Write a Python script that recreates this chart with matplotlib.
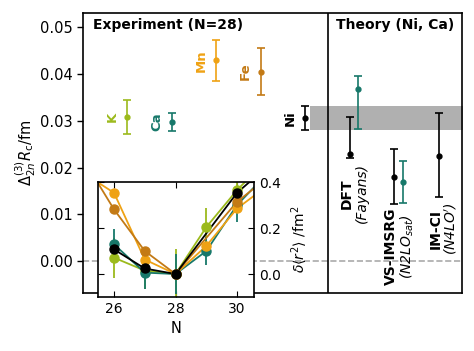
import matplotlib
matplotlib.use("Agg")
import matplotlib.pyplot as plt
import numpy as np

# experiment, N=28 shell gap kink
exp_names = ["K", "Ca", "Mn", "Fe", "Ni"]
exp_vals = [0.0308, 0.0297, 0.0429, 0.0405, 0.0306]
exp_errs = [0.0036, 0.0019, 0.0044, 0.0050, 0.0026]
exp_colors = ["#9cba1c", "#17786a", "#efa214", "#c37a15", "black"]

# theory (Ni black, Ca teal)
th_models = ["DFT", "VS-IMSRG", "IM-CI"]
th_sub = ["(Fayans)", "(N2LO$_\\mathregular{sat}$)", "(N4LO$'$)"]
th_ni = [0.0228, 0.0179, 0.0225]
th_ni_lo = [0.0221, 0.0122, 0.0138]
th_ni_hi = [0.0307, 0.0239, 0.0317]
th_ca = [0.0368, 0.0170, None]
th_ca_lo = [0.0282, 0.0125, None]
th_ca_hi = [0.0396, 0.0214, None]

# inset: delta <r^2> vs N
N = [25, 26, 27, 28, 29, 30, 31]
dr2 = {
    "K":  [np.nan, 0.071, 0.015, 0.0, 0.204, 0.365, 0.50],
    "Ca": [np.nan, 0.129, 0.006, 0.0, 0.100, 0.300, 0.44],
    "Mn": [0.44, 0.353, 0.063, 0.0, 0.122, 0.285, 0.385],
    "Fe": [0.50, 0.281, 0.100, 0.0, np.nan, 0.314, 0.42],
    "Ni": [np.nan, 0.107, 0.024, 0.0, np.nan, 0.353, 0.47],
}
dr2_err = {
    "K":  [0, 0.087, 0.08, 0.11, 0.085, 0.09, 0],
    "Ca": [0, 0.065, 0.07, 0.087, 0.06, 0.075, 0],
    "Mn": [0, 0.01, 0.01, 0.0, 0.01, 0.01, 0],
    "Fe": [0, 0.01, 0.01, 0.0, 0.0, 0.01, 0],
    "Ni": [0, 0.01, 0.01, 0.0, 0.0, 0.01, 0],
}

fig = plt.figure(figsize=(4.74, 3.51), dpi=100)
ax = fig.add_axes([0.1751, 0.1652, 0.7996, 0.7977])

exp_x = np.arange(1, len(exp_names) + 1)
for x, v, e, c, name in zip(exp_x, exp_vals, exp_errs, exp_colors, exp_names):
    ax.errorbar(x, v, yerr=e, fmt="o", ms=3.5, color=c, capsize=3, lw=1.2, capthick=1.2)
    ax.text(x - 0.35, v, name, rotation=90, ha="center", va="center",
            color=c, fontsize=9.5, fontweight="bold")

# grey band = Ni experimental range
ni_v, ni_e = exp_vals[-1], exp_errs[-1]
ax.fill_between([exp_x[-1] + 0.1, 9], ni_v - ni_e, ni_v + ni_e, color="#b0b0b0", lw=0, zorder=0)

ax.axvline(exp_x[-1] + 0.5, color="black", lw=1.2)
ax.axhline(0, color="#aaaaaa", ls="--", lw=1.2, zorder=0)

th_x = exp_x[-1] + 1 + np.arange(len(th_models))
for i, x in enumerate(th_x):
    v, lo, hi = th_ni[i], th_ni_lo[i], th_ni_hi[i]
    ax.errorbar(x, v, yerr=[[v - lo], [hi - v]], fmt="o", ms=3.5, color="black",
                capsize=3, lw=1.2, capthick=1.2)
    if th_ca[i] is not None:
        v, lo, hi = th_ca[i], th_ca_lo[i], th_ca_hi[i]
        ax.errorbar(x + 0.19, v, yerr=[[v - lo], [hi - v]], fmt="o", ms=3.5, color="#17786a",
                    capsize=3, lw=1.2, capthick=1.2)

label_y = [0.0145, 0.0032, 0.0069]
for i, x in enumerate(th_x):
    ax.text(x - 0.08, label_y[i], th_models[i], rotation=90, ha="center", va="center",
            fontsize=10, fontweight="bold")
    ax.text(x + 0.28, label_y[i], th_sub[i], rotation=90, ha="center", va="center",
            fontsize=10, style="italic")

ax.text(0.026, 0.957, "Experiment (N=28)", transform=ax.transAxes, fontsize=10,
        fontweight="bold", va="center")
ax.text(0.667, 0.957, "Theory (Ni, Ca)", transform=ax.transAxes, fontsize=10,
        fontweight="bold", va="center")

ax.set_xlim(0, 8.52)
ax.set_ylim(-0.0068, 0.053)
ax.set_xticks([])
ax.set_yticks([0.0, 0.01, 0.02, 0.03, 0.04, 0.05])
ax.set_yticklabels(["0.00", "0.01", "0.02", "0.03", "0.04", "0.05"])
ax.tick_params(axis="y", labelsize=10.5, length=4, width=1)
ax.set_ylabel("$\\Delta^{(3)}_{2n}R_\\mathrm{c}$/fm", fontsize=10.5, labelpad=1)
for s in ax.spines.values():
    s.set_linewidth(1.2)

# inset
axi = fig.add_axes([0.2068, 0.1538, 0.329, 0.3276], zorder=5)
for name in ["K", "Ca", "Mn", "Fe", "Ni"]:
    c = exp_colors[exp_names.index(name)]
    y = np.array(dr2[name])
    e = np.array(dr2_err[name])
    n = np.array(N)
    ok = np.isfinite(y)
    axi.plot(n[ok], y[ok], "-", color=c, lw=1.3)
    axi.errorbar(n[ok], y[ok], yerr=e[ok], fmt="o", ms=6.5, color=c, lw=1.3, capsize=0)

axi.set_xlim(25.48, 30.55)
axi.set_ylim(-0.1, 0.4)
axi.set_xticks([26, 28, 30])
axi.set_yticks([0.0, 0.2, 0.4])
axi.yaxis.set_label_position("right")
axi.tick_params(direction="in", left=True, right=True, top=True, bottom=True,
                labelleft=False, labelright=True, labelsize=10, length=4)
axi.set_xlabel("N", fontsize=10.5)
axi.set_ylabel("$\\delta\\langle r^2\\rangle$ /fm$^2$", fontsize=10, labelpad=6)
for s in axi.spines.values():
    s.set_linewidth(1.2)

fig.savefig("out.png", dpi=100)
